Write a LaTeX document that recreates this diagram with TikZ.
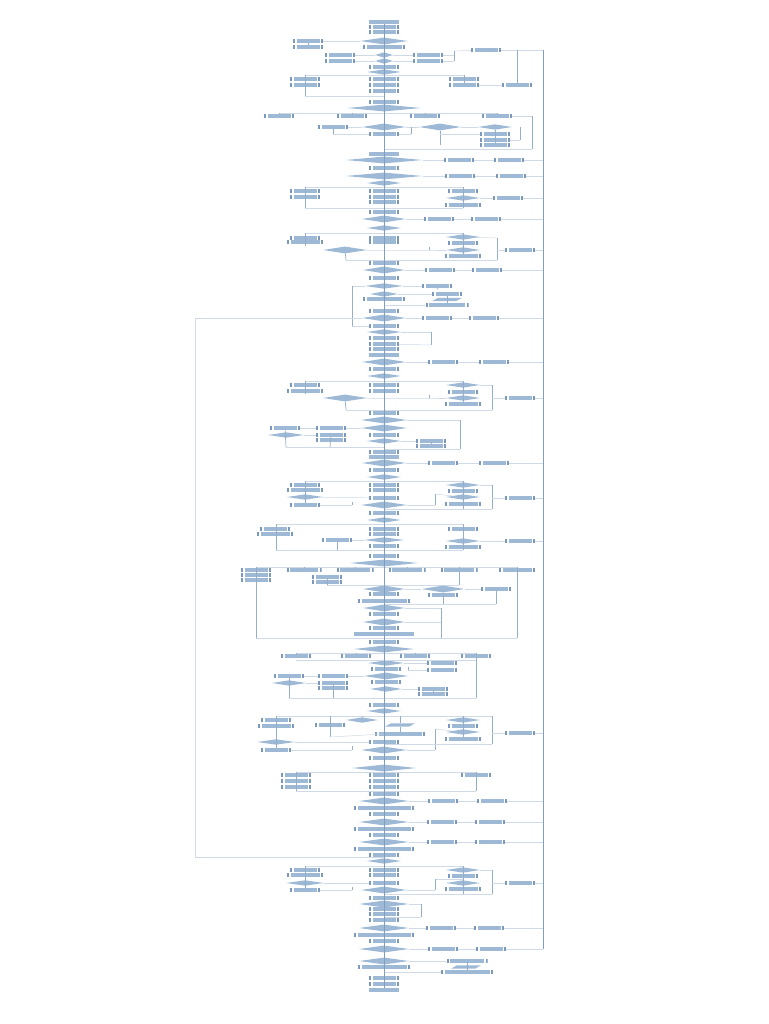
\documentclass[tikz,border=0pt]{standalone}
\usetikzlibrary{shapes.geometric}
\definecolor{boxc}{RGB}{158,185,213}
\definecolor{boxd}{RGB}{122,153,188}
\definecolor{linec}{RGB}{128,158,192}
\definecolor{linkc}{RGB}{208,218,230}
\definecolor{sidec}{RGB}{148,173,201}
\newcommand{\flbox}[4][30]{\node[bx, minimum width=#1pt] (#2) at (#3,#4) {};}
\newcommand{\fldia}[4][34]{\node[dm, minimum width=#1pt, minimum height={(#1>40?7:5.5)*1pt}] (#2) at (#3,#4) {};}
\begin{document}
\begin{tikzpicture}[x=1pt,y=-1pt,
  bx/.style={rectangle, inner sep=0pt, minimum height=3.2pt, path picture={
    \fill[boxc] ([xshift=3.5pt]path picture bounding box.south west) rectangle ([xshift=-3.5pt]path picture bounding box.north east);
    \fill[boxd] (path picture bounding box.south west) rectangle ([xshift=2pt]path picture bounding box.north west);
    \fill[boxd] (path picture bounding box.south east) rectangle ([xshift=-2pt]path picture bounding box.north east);}},
  bar/.style={rectangle, fill=boxc, inner sep=0pt, minimum height=3.4pt, minimum width=30pt},
  dm/.style={diamond, fill=boxc, inner sep=0pt},
  para/.style={rectangle, inner sep=0pt, minimum width=30pt, minimum height=3.4pt, path picture={
    \fill[boxc] ([xshift=6pt]path picture bounding box.north west) -- (path picture bounding box.north east)
      -- ([xshift=-6pt]path picture bounding box.south east) -- (path picture bounding box.south west) -- cycle;}},
  spine/.style={draw=linec, line width=0.9pt},
  side/.style={draw=sidec, line width=0.7pt},
  link/.style={draw=linkc, line width=0.5pt}]
\fill[white] (0,0) rectangle (768,1024);
\coordinate (rs0) at (543,50);
\coordinate (rs1) at (543,949);
\coordinate (ls0) at (195,318);
\coordinate (ls1) at (195,857);
%% top
\node[bar] (t0) at (384,22) {};
\flbox{t1}{384}{27} \flbox{t2}{384}{32}
\fldia[48]{d1}{384}{41}
\flbox{a1}{308}{41} \flbox{a2}{308}{47}
\flbox[42]{a3}{384}{47}
\fldia[18]{d2}{384}{55} \fldia[18]{d3}{384}{61}
\flbox{a4}{340}{55} \flbox{a5}{340}{61}
\flbox{a6}{428}{55} \flbox{a7}{428}{61}
\flbox{a8}{486}{50} \flbox{a9}{517}{85}
\flbox{t3}{384}{67}
\fldia[34]{d4}{384}{72}
\flbox{a10}{305}{79} \flbox{a11}{305}{85}
\flbox{t4}{384}{79} \flbox{t5}{384}{85} \flbox{t6}{384}{91}
\flbox{a12}{464}{79} \flbox{a13}{464}{85}
\flbox{t7}{384}{102}
\fldia[74]{d5}{384}{108}
\coordinate (k1) at (454,51); \coordinate (k2) at (454,61);
\coordinate (j1) at (305,75); \coordinate (j2) at (464,75); \coordinate (j3) at (305,96);
\draw[link] (d1) -- (a1); \draw[side] (a1) -- (a2);
\draw[link] (a4) -- (d2) -- (a6) -- (a6 -| k1);
\draw[link] (a5) -- (d3) -- (a7) -- (k2);
\draw[side] (k1) -- (k2);
\draw[link] (k1) -- (a8); \draw[link] (a8) -- (rs0);
\draw[side] (a9 |- a8) -- (a9);
\draw[link] (j1) -- (j2); \draw[side] (j1) -- (j3); \draw[link] (j3) -- (t7 |- j3);
\draw[side] (j2) -- (a13); \draw[link] (a13) -- (a9);
%% block b
\flbox{b1}{279}{116} \flbox{b2}{352}{116} \flbox{b3}{425}{116} \flbox{b4}{497}{116}
\flbox{b5}{333}{127}
\fldia[44]{d6}{384}{127} \fldia[42]{d7}{440}{127} \fldia[34]{d8}{495}{127}
\flbox{b6}{384}{134}
\flbox{b7}{495}{134} \flbox{b8}{495}{140} \flbox{b9}{495}{145}
\coordinate (j4) at (279,113); \coordinate (j5) at (497,113);
\coordinate (k3) at (532,116); \coordinate (k4) at (532,149);
\draw[link] (j4) -- (j5);
\foreach \n in {b1,b2,b3,b4} \draw[side] (\n |- j4) -- (\n);
\draw[link] (b4) -- (k3); \draw[side] (k3) -- (k4); \draw[link] (k4) -- (b6 |- k4);
\draw[link] (b5) -- (d6) -- (d7) -- (d8);
\draw[side] (b5) -- (b5 |- b6); \draw[link] (b5 |- b6) -- (b6);
\draw[side] (411,127) -- (411,134); \draw[link] (b6) -- (411,134);
\draw[side] (d7) -- (440,145); \draw[link] (440,134) -- (b7);
\draw[side] (d8) -- (b9); \draw[side] (520,127) -- (520,140); \draw[link] (b8) -- (520,140);
\node[bar] (t8) at (384,154) {};
\fldia[77]{d9}{384}{160} \flbox{b10}{459}{160} \flbox{b11}{509}{160}
\flbox{t9}{384}{168}
\fldia[77]{d10}{384}{176} \flbox{b12}{460}{176} \flbox{b13}{511}{176}
\fldia[34]{d11}{384}{183}
\draw[link] (d9) -- (b10) -- (b11) -- (b11 -| rs0);
\draw[link] (d10) -- (b12) -- (b13) -- (b13 -| rs0);
%% block c
\flbox{c1}{305}{191} \flbox{c2}{305}{197}
\flbox{t10}{384}{191} \flbox{t11}{384}{197} \flbox{t12}{384}{202}
\flbox{c3}{463}{191} \fldia[34]{d12}{463}{198} \flbox[36]{c4}{463}{205}
\flbox{c5}{508}{198}
\flbox{t13}{384}{212}
\fldia[44]{d13}{384}{219} \flbox{c6}{439}{219} \flbox{c7}{486}{219}
\fldia[34]{d14}{384}{228}
\coordinate (j6) at (305,187); \coordinate (j7) at (463,187);
\coordinate (j8) at (305,208); \coordinate (j9) at (463,208);
\draw[link] (j6) -- (j7); \draw[side] (j6) -- (j8); \draw[side] (j7) -- (j9); \draw[link] (j8) -- (j9);
\draw[link] (d12) -- (c5) -- (c5 -| rs0);
\draw[link] (d13) -- (c6) -- (c7) -- (c7 -| rs0);
\flbox{c8}{305}{238} \flbox[36]{c9}{305}{242}
\flbox{t14}{384}{238} \flbox{t15}{384}{242}
\fldia[34]{d15}{463}{237} \flbox{c10}{463}{243} \fldia[34]{d16}{463}{250} \flbox[36]{c11}{463}{256}
\fldia[44]{d17}{345}{250}
\flbox{c12}{520}{250}
\coordinate (j10) at (305,233); \coordinate (j11) at (463,233);
\coordinate (k5) at (497,238); \coordinate (k6) at (497,260); \coordinate (k7) at (346,260);
\draw[link] (j10) -- (j11); \draw[side] (j10) -- (305,246); \draw[side] (j11) -- (c11);
\draw[link] (d17) -- (429,250) -- (d16); \draw[side] (429,247) -- (429,250);
\draw[side] (d17) -- (k7); \draw[link] (k7) -- (k6);
\draw[link] (d15) -- (k5); \draw[side] (k5) -- (k6);
\draw[link] (k5 |- c12) -- (c12) -- (c12 -| rs0);
\flbox{t16}{384}{263}
\fldia[42]{d18}{384}{270} \flbox{c13}{440}{270} \flbox{c14}{487}{270}
\draw[link] (d18) -- (c13) -- (c14) -- (c14 -| rs0);
\flbox{t17}{384}{278}
\fldia[38]{d19}{384}{286} \flbox{c15}{437}{286}
\fldia[28]{d20}{384}{294} \flbox{c16}{447}{294}
\flbox[42]{t18}{384}{299}
\node[para] (p1) at (447,299.5) {};
\flbox[43]{c17}{447}{305}
\flbox{t19}{384}{311}
\fldia[44]{d21}{384}{318} \flbox{c18}{437}{318} \flbox{c19}{484}{318}
\flbox{t20}{384}{326}
\coordinate (k8) at (352,286); \coordinate (k9) at (352,326);
\draw[link] (d19) -- (c15); \draw[side] (c15) -- (438,289.5);
\draw[link] (d20) -- (c16); \draw[side] (c16) -- (c17); \draw[link] (t18 |- c17) -- (c17);
\draw[link] (k8) -- (d19); \draw[side] (k8) -- (k9); \draw[link] (k9) -- (t20);
\draw[link] (d21) -- (c18) -- (c19) -- (c19 -| rs0);
\draw[link] (ls0) -- (d21);
\draw[draw=linkc, line width=0.9pt] (ls0) -- (ls1);
%% block e
\fldia[34]{d22}{384}{332}
\flbox{t21}{384}{338} \flbox{t22}{384}{344} \flbox{t23}{384}{349}
\node[bar] (t24) at (384,355) {};
\draw[link] (d22) -- (431,332); \draw[side] (431,332) -- (431,345); \draw[link] (t22) -- (431,345);
\fldia[44]{d23}{384}{362} \flbox{e1}{443}{362} \flbox{e2}{494}{362}
\flbox{t25}{384}{369}
\fldia[34]{d24}{384}{376}
\draw[link] (d23) -- (e1) -- (e2) -- (e2 -| rs0);
\flbox{e3}{305}{385} \flbox[36]{e4}{305}{391}
\flbox{t26}{384}{385} \flbox{t27}{384}{391}
\fldia[34]{d25}{463}{385} \flbox{e5}{463}{392} \fldia[34]{d26}{463}{398} \flbox[36]{e6}{463}{404}
\fldia[44]{d27}{345}{398}
\flbox{e7}{520}{398}
\coordinate (j12) at (305,381); \coordinate (j13) at (463,381);
\coordinate (k10) at (492,385); \coordinate (k11) at (492,410); \coordinate (k12) at (346,410);
\draw[link] (j12) -- (j13); \draw[side] (j12) -- (305,394); \draw[side] (j13) -- (e6);
\draw[link] (d27) -- (429,398) -- (d26); \draw[side] (429,395) -- (429,398);
\draw[side] (d27) -- (k12); \draw[link] (k12) -- (k11);
\draw[link] (d25) -- (k10); \draw[side] (k10) -- (k11);
\draw[link] (k10 |- e7) -- (e7) -- (e7 -| rs0);
\flbox{t28}{384}{413}
\fldia[46]{d28}{384}{420}
\fldia[46]{d29}{384}{428} \flbox{e8}{331}{428} \flbox{e9}{285}{428}
\fldia[36]{d30}{286}{435} \flbox{e10}{331}{435} \flbox{e11}{331}{440}
\flbox{t29}{384}{435}
\fldia[34]{d31}{384}{441} \flbox{e12}{431}{441} \flbox{e13}{431}{446}
\coordinate (k13) at (460,420); \coordinate (k14) at (460,449);
\coordinate (k15) at (286,447); \coordinate (k16) at (330,447);
\draw[link] (d29) -- (e8) -- (e9);
\draw[side] (e9) -- (k15); \draw[link] (d30) -- (e10); \draw[side] (e10) -- (k16);
\draw[link] (k15) -- (t29 |- k15);
\draw[link] (d31) -- (e12); \draw[side] (e12) -- (e13);
\draw[link] (d28) -- (k13); \draw[side] (k13) -- (k14); \draw[link] (k14) -- (t29 |- k14);
\flbox{t30}{384}{452}
\node[bar] (t31) at (384,457) {};
\fldia[44]{d32}{384}{463} \flbox{e14}{443}{463} \flbox{e15}{494}{463}
\flbox{t32}{384}{470}
\fldia[34]{d33}{384}{477}
\draw[link] (d32) -- (e14) -- (e15) -- (e15 -| rs0);
%% block f
\flbox{f1}{305}{485} \flbox[36]{f2}{305}{490} \fldia[36]{d34}{305}{497} \flbox{f3}{305}{505}
\flbox{t33}{384}{485} \flbox{t34}{384}{490} \flbox{t35}{384}{498}
\fldia[46]{d35}{384}{505}
\fldia[34]{d36}{463}{485} \flbox{f4}{463}{491} \fldia[34]{d37}{463}{497} \flbox[36]{f5}{463}{504}
\flbox{f6}{520}{498}
\coordinate (j14) at (305,481); \coordinate (j15) at (463,481);
\coordinate (k17) at (492,485); \coordinate (k18) at (492,509);
\coordinate (k19) at (435,494); \coordinate (k20) at (435,505);
\draw[link] (j14) -- (j15); \draw[side] (j14) -- (f3); \draw[side] (j15) -- (463,509);
\draw[link] (d34) -- (t35); \draw[link] (f3) -- (352,505); \draw[side] (352,502) -- (352,505);
\draw[link] (k19) -- (d37); \draw[side] (k19) -- (k20); \draw[link] (d35) -- (k20);
\draw[link] (d36) -- (k17); \draw[side] (k17) -- (k18); \draw[link] (k18) -- (t35 |- k18);
\draw[link] (k17 |- f6) -- (f6) -- (f6 -| rs0);
\flbox{t36}{384}{513}
\fldia[34]{d38}{384}{520}
\flbox{f7}{275}{529} \flbox[36]{f8}{275}{534}
\flbox{t37}{384}{529} \flbox{t38}{384}{534}
\fldia[40]{d39}{384}{540} \flbox{t39}{384}{546}
\flbox{f9}{337}{540}
\flbox{f10}{463}{529} \fldia[34]{d40}{463}{541} \flbox[36]{f11}{463}{547}
\flbox{f12}{520}{541}
\coordinate (j16) at (276,524); \coordinate (j17) at (463,524);
\coordinate (j18) at (276,550); \coordinate (j19) at (463,550);
\draw[link] (j16) -- (j17); \draw[side] (j16) -- (j18); \draw[side] (j17) -- (j19); \draw[link] (j18) -- (j19);
\draw[link] (f9) -- (d39); \draw[side] (f9) -- (f9 |- j18);
\draw[link] (d40) -- (f12) -- (f12 -| rs0);
\flbox{t40}{384}{556}
\fldia[68]{d41}{384}{563}
%% block g
\flbox{g1}{256}{570} \flbox[35]{g2}{304}{570} \flbox[37]{g3}{355}{570}
\flbox[37]{g4}{407}{570} \flbox[37]{g5}{459}{570} \flbox[36]{g6}{517}{570}
\flbox{g7}{256}{575} \flbox{g8}{256}{580}
\flbox{g9}{327}{577} \flbox{g10}{327}{582}
\coordinate (j20) at (256,567); \coordinate (j21) at (517,567);
\coordinate (j22) at (256,638); \coordinate (j23) at (517,638);
\coordinate (k21) at (327,585); \coordinate (k22) at (459,585);
\draw[link] (j20) -- (j21);
\foreach \n in {g2,g3,g4,g5} \draw[side] (\n |- j20) -- (\n);
\draw[side] (j20) -- (j22); \draw[side] (j21) -- (j23); \draw[link] (j22) -- (j23);
\draw[side] (g9) -- (k21); \draw[link] (k21) -- (k22); \draw[side] (g5) -- (k22);
\fldia[42]{d42}{384}{589} \fldia[43]{d43}{443}{589} \flbox{g11}{496}{589}
\flbox{t41}{384}{594} \flbox{g12}{443}{595}
\flbox[52]{t42}{384}{601}
\fldia[42]{d44}{384}{608}
\flbox{t43}{384}{614}
\fldia[42]{d45}{384}{622}
\flbox{t44}{384}{628}
\node[bar, minimum width=60pt] (t45) at (384,634) {};
\coordinate (k23) at (496,604); \coordinate (k24) at (441,608); \coordinate (k25) at (441,638);
\draw[link] (d42) -- (d43) -- (g11);
\draw[side] (d43) -- (443,604); \draw[side] (g11) -- (k23); \draw[link] (t42 |- k23) -- (k23);
\draw[link] (d44) -- (k24); \draw[side] (k24) -- (k25); \draw[link] (d45) -- (d45 -| k24);
\flbox{t46}{384}{642}
\fldia[60]{d46}{384}{649}
%% block h
\flbox{h1}{296}{656} \flbox{h2}{356}{656} \flbox{h3}{415}{656} \flbox{h4}{476}{656}
\fldia[36]{d47}{386}{663} \flbox{h5}{442}{663} \flbox{h6}{442}{670}
\flbox{t47}{386}{669}
\fldia[44]{d48}{386}{676} \flbox{h7}{333}{676} \flbox{h8}{289}{676}
\fldia[34]{d49}{289}{683} \flbox{h9}{333}{683} \flbox{h10}{333}{688}
\flbox{t48}{386}{682}
\fldia[32]{d50}{386}{689} \flbox{h11}{433}{689} \flbox{h12}{433}{694}
\coordinate (j24) at (296,653); \coordinate (j25) at (476,653);
\coordinate (j26) at (289,698); \coordinate (j27) at (476,698);
\draw[link] (j24) -- (j25); \draw[link] (296,660) -- (476,660);
\foreach \n in {h1,h2,h3} \draw[side] (\n |- j24) -- (\n);
\draw[side] (j25) -- (j27);
\draw[link] (d47) -- (h5); \draw[link] (408,670) -- (h6); \draw[side] (408,667) -- (408,670);
\draw[link] (d48) -- (h7) -- (h8); \draw[link] (d49) -- (h9);
\draw[side] (h8) -- (j26); \draw[side] (h9) -- (h9 |- j26); \draw[link] (j26) -- (j27);
\draw[link] (d50) -- (h11); \draw[side] (h11) -- (h12);
\flbox{t49}{384}{705}
\fldia[34]{d51}{384}{711}
%% block i
\flbox{i1}{276}{720} \flbox[36]{i2}{276}{726} \fldia[38]{d52}{276}{742} \flbox{i3}{276}{750}
\fldia[32]{d53}{362}{720} \flbox{i4}{330}{725}
\node[para] (p2) at (400,725) {};
\flbox[50]{i5}{400}{734}
\fldia[34]{d54}{463}{720} \flbox{i6}{463}{726} \fldia[34]{d55}{463}{732} \flbox[36]{i7}{463}{739}
\flbox{i8}{520}{733}
\flbox{t50}{384}{742}
\fldia[46]{d56}{384}{750}
\coordinate (j28) at (276,716); \coordinate (j29) at (492,716);
\coordinate (k26) at (492,744); \coordinate (k27) at (435,729); \coordinate (k28) at (435,750);
\draw[link] (j28) -- (j29); \draw[side] (j28) -- (i3); \draw[side] (j29) -- (k26);
\draw[side] (d53 |- j28) -- (d53); \draw[side] (i4 |- j28) -- (330,737); \draw[link] (330,737) -- (t50 |- i5);
\draw[side] (p2 |- j28) -- (p2); \draw[side] (p2) -- (i5);
\draw[side] (d54 |- j28) -- (i7);
\draw[link] (d52) -- (t50); \draw[link] (i3) -- (352,750); \draw[side] (352,746) -- (352,750);
\draw[link] (k27) -- (d55); \draw[side] (k27) -- (k28); \draw[link] (d56) -- (k28);
\draw[link] (k26) -- (t50 |- k26);
\draw[link] (k26 |- i8) -- (i8) -- (i8 -| rs0);
\flbox{t51}{384}{758}
\fldia[64]{d57}{384}{768}
%% block k
\flbox{k1}{296}{775} \flbox{k2}{296}{781} \flbox{k3}{296}{787}
\flbox{t52}{384}{775} \flbox{t53}{384}{781} \flbox{t54}{384}{787} \flbox{t55}{384}{794}
\flbox{k4}{476}{775}
\coordinate (j30) at (296,772); \coordinate (j31) at (476,772);
\coordinate (j32) at (296,791); \coordinate (j33) at (476,791);
\draw[link] (j30) -- (j31); \draw[side] (j30) -- (j32); \draw[side] (j31) -- (j33); \draw[link] (j32) -- (j33);
\fldia[50]{d58}{384}{801} \flbox{k5}{443}{801} \flbox{k6}{492}{801}
\flbox[60]{t56}{384}{808} \flbox{t57}{384}{814}
\fldia[50]{d59}{384}{822} \flbox{k7}{442}{822} \flbox{k8}{490}{822}
\flbox[60]{t58}{384}{829} \flbox{t59}{384}{835}
\fldia[50]{d60}{384}{842} \flbox{k9}{442}{842} \flbox{k10}{490}{842}
\flbox[60]{t60}{384}{849} \flbox{t61}{384}{855}
\draw[link] (d58) -- (k5) -- (k6) -- (k6 -| rs0);
\draw[link] (d59) -- (k7) -- (k8) -- (k8 -| rs0);
\draw[link] (d60) -- (k9) -- (k10) -- (k10 -| rs0);
\draw[link] (ls1) -- (t61 |- ls1);
\fldia[34]{d61}{384}{861}
%% block m
\flbox{m1}{305}{870} \flbox[36]{m2}{305}{875} \fldia[38]{d62}{305}{883} \flbox{m3}{305}{890}
\flbox{t62}{384}{870} \flbox{t63}{384}{875} \flbox{t64}{384}{883}
\fldia[46]{d63}{384}{890}
\fldia[34]{d64}{463}{870} \flbox{m4}{463}{876} \fldia[34]{d65}{463}{883} \flbox[36]{m5}{463}{889}
\flbox{m6}{520}{883}
\coordinate (j34) at (305,866); \coordinate (j35) at (463,866);
\coordinate (k29) at (492,870); \coordinate (k30) at (492,894);
\coordinate (k31) at (435,879); \coordinate (k32) at (435,890);
\draw[link] (j34) -- (j35); \draw[side] (j34) -- (m3); \draw[side] (j35) -- (463,894);
\draw[link] (d62) -- (t64); \draw[link] (m3) -- (352,890); \draw[side] (352,887) -- (352,890);
\draw[link] (k31) -- (m4 |- k31); \draw[side] (k31) -- (k32); \draw[link] (d63) -- (k32);
\draw[link] (d64) -- (k29); \draw[side] (k29) -- (k30); \draw[link] (k30) -- (t64 |- k30);
\draw[link] (k29 |- m6) -- (m6) -- (m6 -| rs0);
%% bottom
\flbox{t65}{384}{898}
\fldia[50]{d66}{384}{904}
\flbox{t66}{384}{909} \flbox{t67}{384}{914} \flbox{t68}{384}{920}
\draw[link] (d66) -- (421,904); \draw[side] (421,904) -- (421,917); \draw[link] (t67 |- 0,917) -- (421,917);
\fldia[50]{d67}{384}{928} \flbox{n1}{441}{928} \flbox{n2}{489}{928}
\flbox[60]{t69}{384}{935} \flbox{t70}{384}{941}
\fldia[50]{d68}{384}{949} \flbox{n3}{443}{949} \flbox{n4}{491}{949}
\fldia[50]{d69}{384}{961} \flbox[41]{n5}{467}{961}
\flbox[52]{t71}{384}{967}
\node[para] (p3) at (466,967) {};
\flbox[52]{n6}{467}{972}
\flbox{t72}{384}{978} \flbox{t73}{384}{984}
\node[bar] (t74) at (384,990) {};
\draw[link] (d67) -- (n1) -- (n2) -- (n2 -| rs0);
\draw[link] (d68) -- (n3) -- (n4) -- (rs1);
\draw[link] (d69) -- (n5); \draw[side] (n5) -- (n6); \draw[link] (t71 |- n6) -- (n6);
%% spines
\draw[spine] (rs0) -- (rs1);
\draw[spine] (t0) -- (t74);
\end{tikzpicture}
\end{document}
